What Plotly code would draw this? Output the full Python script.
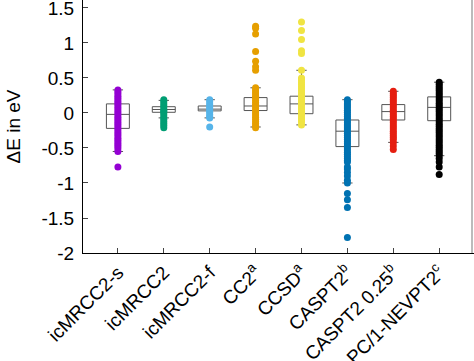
import plotly.graph_objects as go

methods = ["icMRCC2-s", "icMRCC2", "icMRCC2-f", "CC2<sup>a</sup>", "CCSD<sup>a</sup>",
           "CASPT2<sup>b</sup>", "CASPT2 0.25<sup>b</sup>", "PC/1-NEVPT2<sup>c</sup>"]
colors = ["#9400D3", "#009E73", "#56B4E9", "#E69F00", "#F0E442", "#0072B2", "#E51E10", "#000000"]

# box statistics
q1 = [-0.22, 0.01, 0.03, 0.035, -0.01, -0.48, -0.10, -0.11]
median = [-0.02, 0.05, 0.055, 0.10, 0.13, -0.26, 0.02, 0.08]
q3 = [0.13, 0.09, 0.10, 0.22, 0.24, -0.10, 0.12, 0.23]
lower = [-0.55, -0.07, -0.07, -0.20, -0.17, -1.00, -0.42, -0.61]
upper = [0.33, 0.18, 0.19, 0.36, 0.61, 0.19, 0.31, 0.44]

# individual points (dense strips + outliers)
pts_icmrcc2s = [0.33, 0.30, 0.27, 0.24, 0.21, 0.18, 0.15, 0.12, 0.09, 0.06, 0.03, 0.00, -0.03, -0.06,
                -0.09, -0.12, -0.15, -0.18, -0.21, -0.24, -0.27, -0.30, -0.33, -0.36, -0.39, -0.42,
                -0.45, -0.48, -0.51, -0.55, -0.77]
pts_icmrcc2 = [0.19, 0.16, 0.13, 0.10, 0.07, 0.04, 0.02, 0.00, -0.03, -0.06, -0.09, -0.12, -0.15,
               -0.18, -0.21]
pts_icmrcc2f = [0.19, 0.16, 0.13, 0.10, 0.07, 0.04, 0.01, -0.02, -0.05, -0.07, -0.20]
pts_cc2 = [1.24, 1.21, 1.13, 0.88, 0.74, 0.66, 0.61, 0.36, 0.33, 0.30, 0.27, 0.24, 0.21, 0.18, 0.15,
           0.12, 0.09, 0.06, 0.03, 0.00, -0.03, -0.06, -0.09, -0.12, -0.15, -0.18, -0.21]
pts_ccsd = [1.30, 1.18, 1.05, 0.89, 0.85, 0.61, 0.50, 0.47, 0.44, 0.41, 0.38, 0.35, 0.32, 0.29, 0.26,
            0.23, 0.20, 0.17, 0.14, 0.11, 0.08, 0.05, 0.02, -0.01, -0.04, -0.07, -0.10, -0.13, -0.17]
pts_caspt2 = [0.19, 0.16, 0.13, 0.10, 0.07, 0.04, 0.01, -0.02, -0.05, -0.08, -0.11, -0.14, -0.17,
              -0.20, -0.23, -0.26, -0.29, -0.32, -0.35, -0.38, -0.41, -0.44, -0.47, -0.50, -0.53,
              -0.56, -0.59, -0.62, -0.65, -0.68, -0.70, -0.77, -0.80, -0.85, -0.90, -0.96, -1.00,
              -1.15, -1.24, -1.35, -1.78]
pts_caspt2_025 = [0.31, 0.28, 0.25, 0.22, 0.19, 0.16, 0.13, 0.10, 0.07, 0.04, 0.01, -0.02, -0.05,
                  -0.08, -0.11, -0.14, -0.17, -0.20, -0.23, -0.26, -0.29, -0.32, -0.35, -0.38,
                  -0.42, -0.47, -0.52]
pts_nevpt2 = [0.44, 0.41, 0.38, 0.35, 0.32, 0.29, 0.26, 0.23, 0.20, 0.17, 0.14, 0.11, 0.08, 0.05,
              0.02, -0.01, -0.04, -0.07, -0.10, -0.13, -0.16, -0.19, -0.22, -0.25, -0.28, -0.31,
              -0.34, -0.37, -0.40, -0.43, -0.46, -0.49, -0.52, -0.55, -0.58, -0.61, -0.65, -0.70,
              -0.77, -0.88]
points = [pts_icmrcc2s, pts_icmrcc2, pts_icmrcc2f, pts_cc2, pts_ccsd, pts_caspt2, pts_caspt2_025, pts_nevpt2]

y_ticks = [-2, -1.5, -1, -0.5, 0, 0.5, 1, 1.5]
y_ticktext = ["-2", "-1.5", "-1", "-0.5", "0", "0.5", "1", "1.5"]

fig = go.Figure()
for i in range(len(methods)):
    fig.add_trace(go.Box(
        x=[i], q1=[q1[i]], median=[median[i]], q3=[q3[i]],
        lowerfence=[lower[i]], upperfence=[upper[i]],
        width=0.5, whiskerwidth=0.45, boxpoints=False,
        fillcolor="rgba(0,0,0,0)", line=dict(color="#555555", width=1),
        showlegend=False, hoverinfo="skip"))
for i in range(len(methods)):
    fig.add_trace(go.Scatter(
        x=[i] * len(points[i]), y=points[i], mode="markers",
        marker=dict(color=colors[i], size=7, line=dict(width=0)),
        cliponaxis=False, showlegend=False))

font = "Liberation Sans, Arial, sans-serif"
fig.update_layout(
    width=474, height=361,
    margin=dict(l=83, r=0, t=0, b=108),
    paper_bgcolor="white", plot_bgcolor="white",
    font=dict(family=font, size=19, color="black"),
    xaxis=dict(range=[-0.76, 7.758], tickmode="array", tickvals=list(range(len(methods))),
               ticktext=methods, tickangle=-45, ticks="inside", ticklen=5, tickcolor="#444",
               showline=True, linecolor="black", linewidth=1, showgrid=False, zeroline=False,
               tickfont=dict(size=19), automargin=False, ticklabeloverflow="allow"),
    yaxis=dict(range=[-2, 1.614], tickmode="array", tickvals=y_ticks, ticktext=y_ticktext,
               ticks="inside", ticklen=5, tickcolor="#444", showline=True, linecolor="black",
               linewidth=1, showgrid=False, zeroline=False, tickfont=dict(size=19),
               ticklabelstandoff=4, automargin=False, ticklabeloverflow="allow",
               title=dict(text="ΔE in eV", font=dict(size=19), standoff=15)),
    shapes=[dict(type="line", xref="x domain", yref="y domain", x0=0.9949, x1=0.9949,
                 y0=0, y1=1, line=dict(color="#bbbbbb", width=2))],
)
fig.write_html("out.html", config={"displayModeBar": False},
               post_script="document.body.style.margin='0';")
